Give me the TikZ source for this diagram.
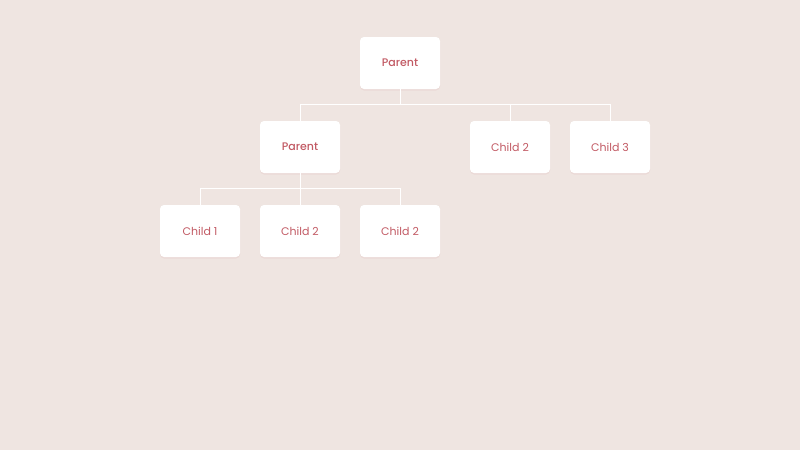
\documentclass[tikz,border=0pt]{standalone}
\usepackage{fontspec}
\setmainfont{Poppins}
\newfontfamily\parentfont{Poppins Medium}
\usetikzlibrary{shadows}
\definecolor{pagebg}{HTML}{EFE5E1}
\definecolor{boxtext}{HTML}{C25A64}
\tikzset{
  orgbox/.style={draw=none, fill=white, rounded corners=4pt,
    minimum width=80pt, minimum height=52pt, text=boxtext,
    font=\fontsize{11}{13}\selectfont,
    drop shadow={shadow xshift=0pt, shadow yshift=-1.5pt, opacity=0.08, fill=boxtext}},
  parentbox/.style={orgbox, font=\parentfont\fontsize{11}{13}\selectfont},
  link/.style={draw=white, line width=1pt}
}
\begin{document}
\begin{tikzpicture}[x=1pt,y=-1pt]
    % Background
    \fill[pagebg] (0,0) rectangle (800,450);
    \useasboundingbox (0,0) rectangle (800,450);

    % Top level
    \node[parentbox] (root) at (400,63) {Parent};

    % Second level
    \node[parentbox] (sub) at (300,147) {Parent};
    \node[orgbox] (childB) at (510,147) {Child 2};
    \node[orgbox] (childC) at (610,147) {Child 3};

    % Third level
    \node[orgbox] (leafA) at (200,231) {Child 1};
    \node[orgbox] (leafB) at (300,231) {Child 2};
    \node[orgbox] (leafC) at (400,231) {Child 2};

    % Connectors
    \coordinate (top-bus) at (400,104);
    \coordinate (mid-bus) at (300,188);
    \draw[link] (root.south) -- (top-bus);
    \draw[link] (top-bus) -| (sub.north);
    \draw[link] (top-bus) -| (childB.north);
    \draw[link] (top-bus) -| (childC.north);
    \draw[link] (sub.south) -- (mid-bus);
    \draw[link] (mid-bus) -| (leafA.north);
    \draw[link] (mid-bus) -- (leafB.north);
    \draw[link] (mid-bus) -| (leafC.north);
\end{tikzpicture}
\end{document}
